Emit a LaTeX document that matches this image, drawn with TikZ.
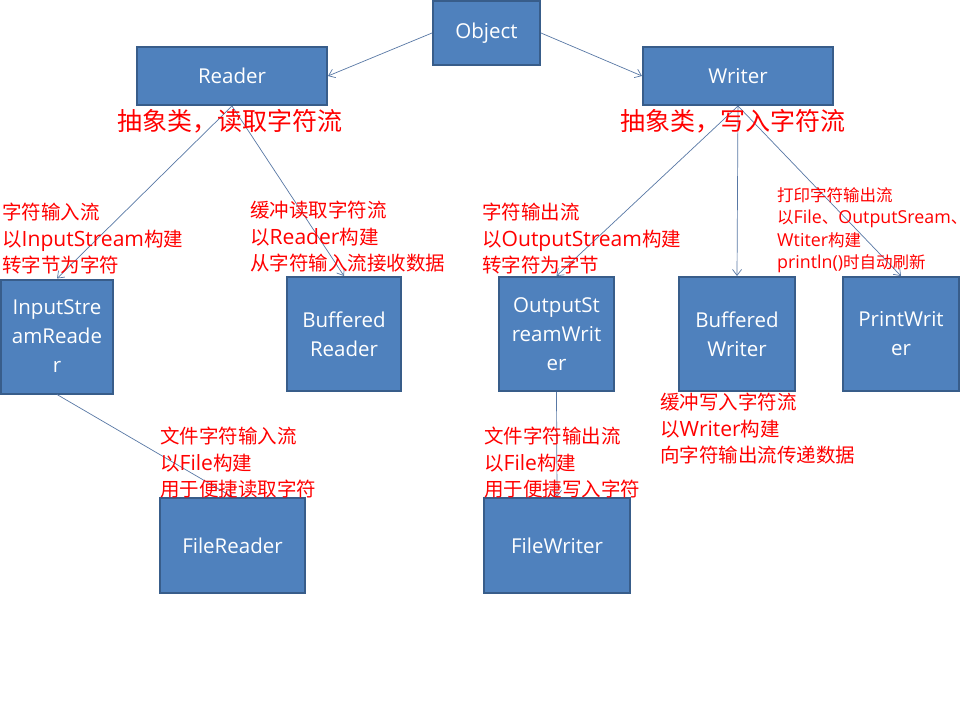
\documentclass[tikz,border=0pt]{standalone}
\usepackage{fontspec}
\setmainfont{Noto Sans CJK SC}
\newfontfamily\latf[Scale=1.08]{Open Sans}
\newfontfamily\boxf{Open Sans}
\usetikzlibrary{arrows.meta}
\definecolor{boxfill}{HTML}{4F81BD}
\definecolor{boxline}{HTML}{385D8A}
\definecolor{conn}{RGB}{88,120,165}
\newcommand{\lw}[1]{{\latf #1}}
\begin{document}
\begin{tikzpicture}[x=1pt,y=-1pt,
  cls/.style={rectangle,fill=boxfill,draw=boxline,line width=2pt,text=white,
    align=center,inner sep=0pt,font=\boxf\fontsize{20.5}{29}\selectfont},
  arr/.style={draw=conn,line width=0.7pt,-{Straight Barb[length=6pt,width=9pt]}},
  note/.style={text=red,align=left,anchor=north west,inner sep=0pt,
    font=\fontsize{19.5}{26.5}\selectfont},
  smallnote/.style={text=red,align=left,anchor=north west,inner sep=0pt,
    font=\fontsize{16.5}{22.5}\selectfont},
  bignote/.style={text=red,inner sep=0pt,font=\fontsize{25}{30}\selectfont}]
\useasboundingbox (0,0) rectangle (960,720);
\fill[white] (0,0) rectangle (960,720);

\node[cls,minimum width=107pt,minimum height=64pt] (obj) at (486.5,33) {Object};
\node[cls,minimum width=190pt,minimum height=58pt] (reader) at (232,76) {Reader};
\node[cls,minimum width=190pt,minimum height=58pt] (writer) at (738,76) {Writer};
\node[cls,minimum width=112pt,minimum height=114pt] (isr) at (57,336.5) {InputStre\\amReade\\r};
\node[cls,minimum width=114pt,minimum height=114pt] (br) at (344,334) {Buffered\\Reader};
\node[cls,minimum width=145pt,minimum height=95pt] (fr) at (232.5,545.5) {FileReader};
\node[cls,minimum width=115pt,minimum height=114pt] (osw) at (556.5,334) {OutputSt\\reamWrit\\er};
\node[cls,minimum width=116pt,minimum height=114pt] (bw) at (737,334) {Buffered\\Writer};
\node[cls,minimum width=116pt,minimum height=114pt] (pw) at (901,334) {PrintWrit\\er};
\node[cls,minimum width=146pt,minimum height=95pt] (fw) at (557,545.5) {FileWriter};

\draw[arr] (obj.west) -- (reader.east);
\draw[arr] (obj.east) -- (writer.west);
\draw[arr] (reader.south) -- (isr.north);
\draw[arr] (reader.south) -- (br.north);
\draw[arr] (writer.south) -- (osw.north);
\draw[arr] (writer.south) -- (bw.north);
\draw[arr] (writer.south) -- (pw.north);
\draw[arr] (isr.south) -- (fr.north);
\draw[arr] (osw.south) -- (fw.north);

\node[bignote] (rlab) at (230,121) {抽象类，读取字符流};
\node[bignote] (wlab) at (733,121) {抽象类，写入字符流};

\node[note] (isrlab) at (2,203) {字符输入流\\以\lw{InputStream}构建\\转字节为字符};
\node[note] (brlab) at (250,201) {缓冲读取字符流\\以\lw{Reader}构建\\从字符输入流接收数据};
\node[note] (oswlab) at (482,203) {字符输出流\\以\lw{OutputStream}构建\\转字符为字节};
\node[smallnote] (pwlab) at (777,187) {打印字符输出流\\以\lw{File}、\lw{OutputSream}、\\\lw{Wtiter}构建\\\lw{println()}时自动刷新};
\node[note] (frlab) at (160,427) {文件字符输入流\\以\lw{File}构建\\用于便捷读取字符};
\node[note] (fwlab) at (484,427) {文件字符输出流\\以\lw{File}构建\\用于便捷写入字符};
\node[note] (bwlab) at (660,393) {缓冲写入字符流\\以\lw{Writer}构建\\向字符输出流传递数据};
\end{tikzpicture}
\end{document}
